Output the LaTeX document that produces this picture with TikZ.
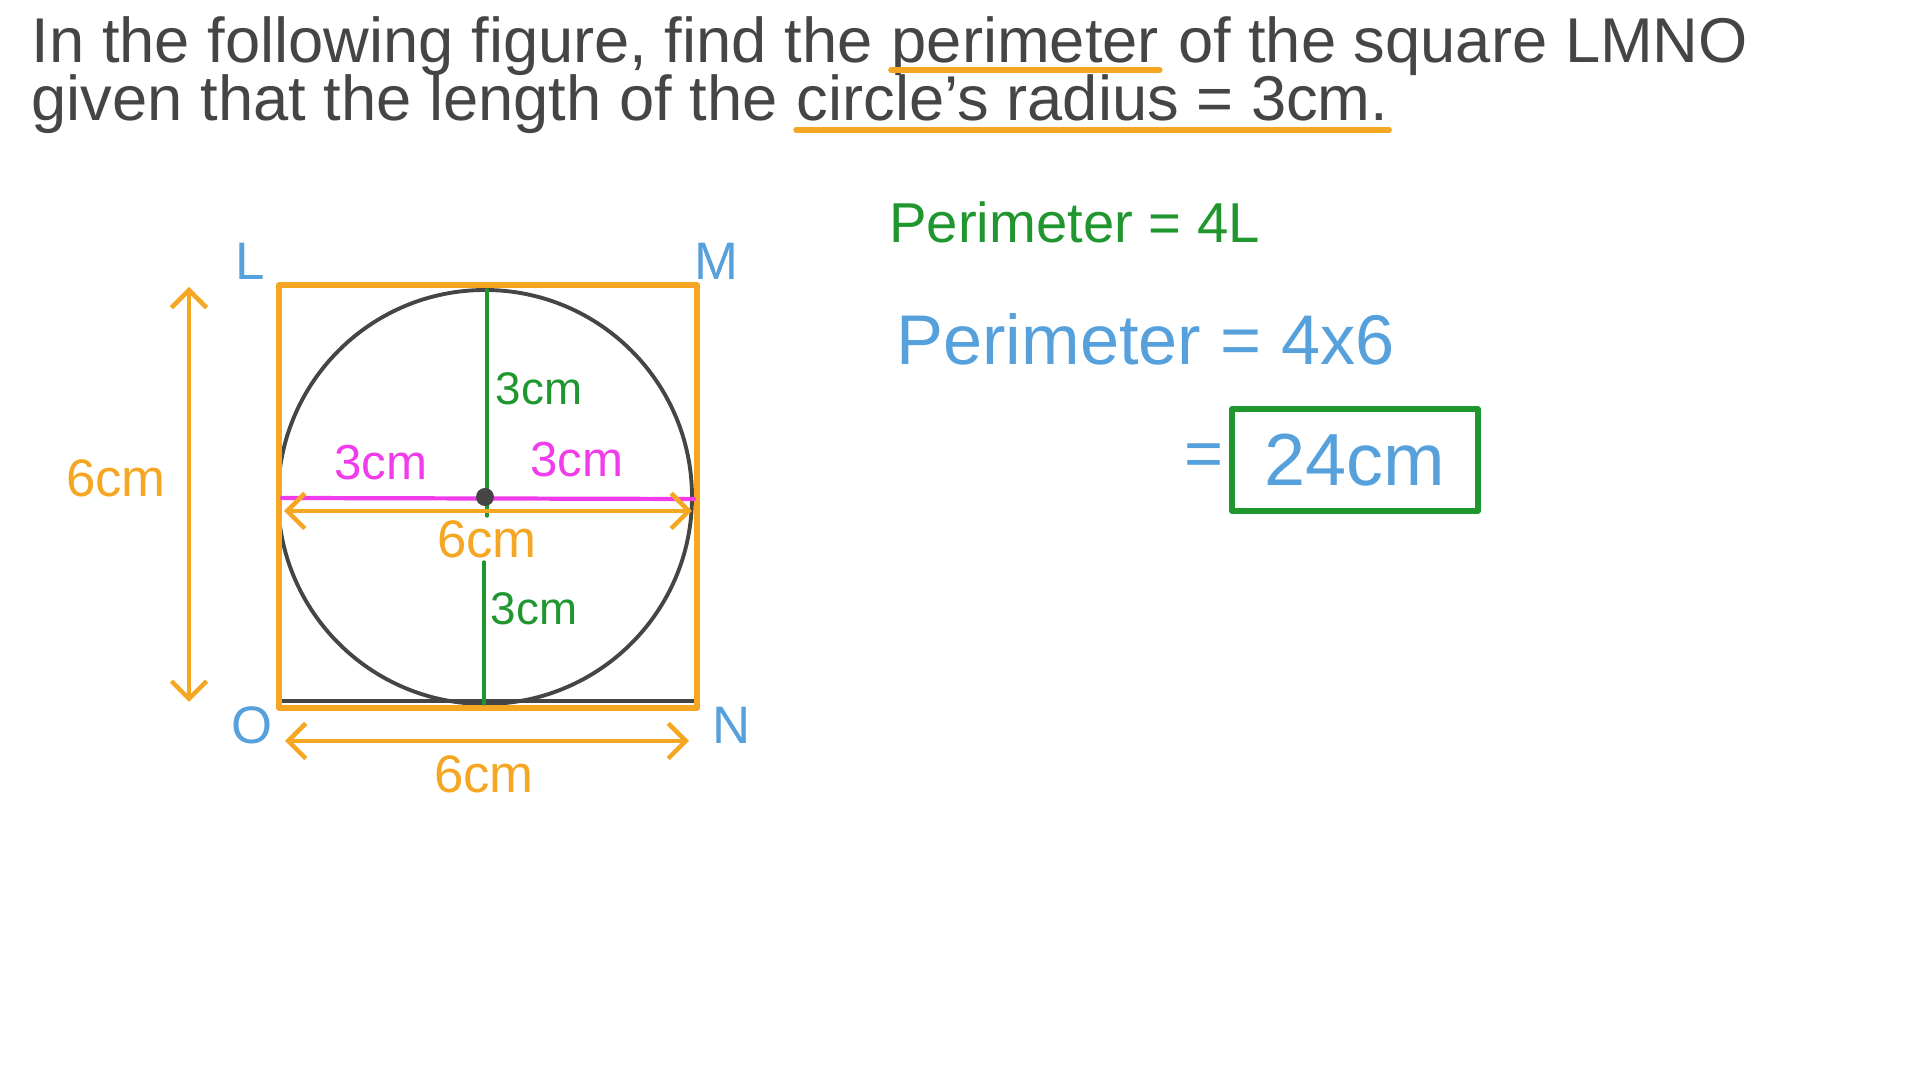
\documentclass[tikz,border=0pt]{standalone}
\usepackage{fontspec}
\setmainfont{Liberation Sans}
\usetikzlibrary{arrows.meta}
\definecolor{ink}{RGB}{69,69,69}
\definecolor{orng}{RGB}{245,166,35}
\definecolor{grn}{RGB}{31,150,46}
\definecolor{blu}{RGB}{86,160,220}
\definecolor{mag}{RGB}{240,60,235}
\tikzset{
  ttl/.style={anchor=base west, inner sep=0pt, text=ink, font=\fontsize{18}{21}\selectfont},
  uline/.style={draw=orng, line width=1.6pt},
  edge/.style={draw=orng, line width=1.5pt},
  dim/.style={draw=orng, line width=1.3pt, {Straight Barb[length=5pt,width=10pt]}-{Straight Barb[length=5pt,width=10pt]}},
  corner/.style={text=blu, font=\fontsize{15}{18}\selectfont},
  olbl/.style={text=orng, font=\fontsize{15}{18}\selectfont},
  glbl/.style={text=grn, font=\fontsize{13}{16}\selectfont},
  mlbl/.style={text=mag, font=\fontsize{14}{17}\selectfont},
}
\begin{document}
\begin{tikzpicture}[x=0.01cm, y=-0.01cm, line cap=round, line join=round]
    \useasboundingbox (0,0) rectangle (1920,1080);

    % question
    \node[ttl] (t1a) at (31,63) {In the following figure, find the};
    \node[ttl] (t1b) at ([xshift=5pt]t1a.base east) {perimeter};
    \node[ttl] (t1c) at ([xshift=5pt]t1b.base east) {of the square LMNO};
    \node[ttl] (t2a) at (31,121) {given that the length of the};
    \node[ttl] (t2b) at ([xshift=5pt]t2a.base east) {circle's radius = 3cm.};
    \draw[uline] ([yshift=-2pt]t1b.base west) -- ([yshift=-2pt]t1b.base east);
    \draw[uline] ([yshift=-2.5pt]t2b.base west) -- ([yshift=-2.5pt]t2b.base east);

    % square and circle
    \coordinate (L) at (279,285);
    \coordinate (M) at (697,285);
    \coordinate (N) at (697,708);
    \coordinate (O) at (279,708);
    \coordinate (C) at (485,497);
    \coordinate (ctop) at (487,290);
    \coordinate (cbot) at (484,704);
    \draw[ink, line width=1.1pt] (C) circle [x radius=207, y radius=207];
    \draw[ink, line width=1pt] ([yshift=2pt]O) -- ([yshift=2pt]N);
    \draw[edge] (L) -- (M) -- (N) -- (O) -- cycle;

    % dimensions
    \coordinate (vt) at (189,287);
    \coordinate (vb) at (189,702);
    \coordinate (hl) at (285,741);
    \coordinate (hr) at (689,741);
    \coordinate (ml) at (284,511);
    \coordinate (mr) at (692,511);
    \draw[dim] (vt) -- (vb);
    \draw[dim] (hl) -- (hr);
    \node[olbl] (six1) at (116,478) {6cm};
    \node[olbl] (six2) at (484,774) {6cm};
    \node[olbl, inner sep=1pt] (six3) at (487,539) {6cm};

    % radii
    \draw[grn, line width=0.9pt] (ctop) -- (six3.north -| ctop);
    \draw[grn, line width=0.9pt] (six3.south -| cbot) -- (cbot);
    \coordinate (dl) at (282,498);
    \coordinate (dr) at (694,499);
    \draw[mag, line width=1.2pt] (dl) -- (dr);
    \draw[dim] (ml) -- (mr);
    \fill[ink] (C) circle [x radius=9, y radius=9];
    \node[glbl] (r1) at (539,389) {3cm};
    \node[glbl] (r2) at (534,609) {3cm};
    \node[mlbl] (r3) at (381,463) {3cm};
    \node[mlbl] (r4) at (577,460) {3cm};

    % corner names
    \node[corner] (nL) at (250,261) {L};
    \node[corner] (nM) at (716,261) {M};
    \node[corner] (nN) at (732,725) {N};
    \node[corner] (nO) at (252,725) {O};

    % working
    \node[anchor=west, text=grn, font=\fontsize{16}{19}\selectfont] (p1) at (877,222) {Perimeter = 4L};
    \node[anchor=west, text=blu, font=\fontsize{20}{23}\selectfont] (p2) at (884,339) {Perimeter = 4x6};
    \node[draw=grn, line width=1.5pt, text=blu, minimum width=2.46cm, minimum height=1.02cm,
          font=\fontsize{21}{24}\selectfont] (ans) at (1355,460) {24cm};
    \node[text=blu, font=\fontsize{19}{22}\selectfont] (eq) at (1204,460) {=};

\end{tikzpicture}
\end{document}
